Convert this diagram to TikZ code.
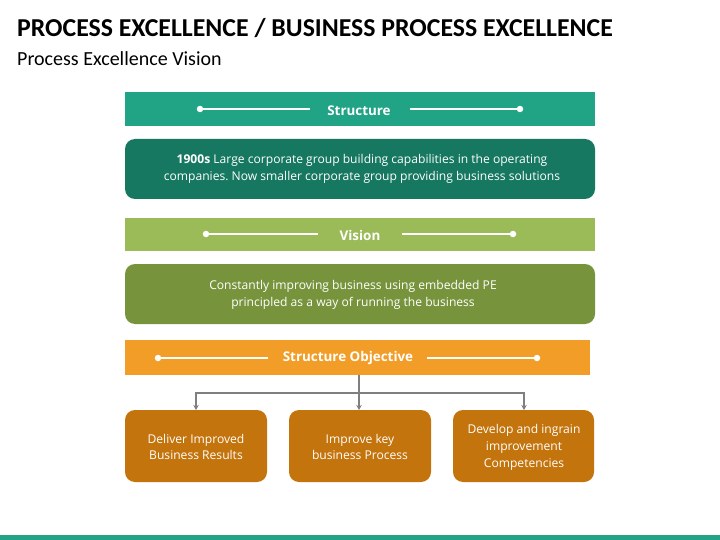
\documentclass[tikz,border=0pt]{standalone}
\usepackage{fontspec}
\setmainfont{Open Sans}
\newfontfamily\titlefont{Carlito}
\usetikzlibrary{arrows.meta}
\frenchspacing
\definecolor{tealbar}{RGB}{33,163,133}
\definecolor{tealbox}{RGB}{22,120,97}
\definecolor{greenbar}{RGB}{155,187,89}
\definecolor{greenbox}{RGB}{119,148,61}
\definecolor{orangebar}{RGB}{242,157,40}
\definecolor{orangebox}{RGB}{196,116,12}
\definecolor{conn}{RGB}{127,127,127}
\tikzset{
  bar/.style={fill=#1, draw=none},
  rbox/.style={fill=#1, draw=none, rounded corners=10pt},
  bartext/.style={text=white, font=\bfseries\fontsize{13.4}{16}\selectfont},
  boxtext/.style={text=white, align=center, font=\fontsize{12.1}{17.5}\selectfont},
  smalltext/.style={text=white, align=center, font=\fontsize{12.1}{16.9}\selectfont},
  deco/.style={draw=white, line width=1.6pt},
  dotc/.style={circle, fill=white, inner sep=0pt, minimum size=6.5pt},
  connector/.style={draw=conn, line width=1.2pt},
  arr/.style={connector, -{Stealth[length=5pt,width=5.5pt]}},
}
\begin{document}
\begin{tikzpicture}[x=1pt,y=-1pt]
\useasboundingbox (0,0) rectangle (720,540);
\fill[white] (0,0) rectangle (720,540);
% titles
\node[anchor=base west, inner sep=0pt, font=\titlefont\bfseries\fontsize{25.8}{28}\selectfont] (title) at (17,37) {PROCESS EXCELLENCE / BUSINESS PROCESS EXCELLENCE};
\node[anchor=base west, inner sep=0pt, font=\titlefont\fontsize{20}{22}\selectfont] (subtitle) at (17,66) {Process Excellence Vision};
% Structure bar
\fill[bar=tealbar] (125,92) rectangle (595,126);
\node[bartext] (s) at (359,110.5) {Structure};
\node[dotc] (sl) at (200,109) {};
\coordinate (sle) at (310,109);
\coordinate (srs) at (410,109);
\node[dotc] (sr) at (520,109) {};
\draw[deco] (sl.center) -- (sle);
\draw[deco] (srs) -- (sr.center);
% box 1
\fill[rbox=tealbox] (125,139) rectangle (595,199);
\node[boxtext] (b1) at (362,169) {\textbf{1900s} Large corporate group building capabilities in the operating\\companies. Now smaller corporate group providing business solutions};
% Vision bar
\fill[bar=greenbar] (125,218) rectangle (595,251);
\node[bartext] (v) at (360,235.5) {Vision};
\node[dotc] (vl) at (206,234) {};
\coordinate (vle) at (318,234);
\coordinate (vrs) at (402,234);
\node[dotc] (vr) at (513,234) {};
\draw[deco] (vl.center) -- (vle);
\draw[deco] (vrs) -- (vr.center);
% box 2
\fill[rbox=greenbox] (125,264) rectangle (595,324);
\node[boxtext] (b2) at (353,295) {Constantly improving business using embedded PE\\principled as a way of running the business};
% Structure Objective bar
\fill[bar=orangebar] (125,340) rectangle (590,375);
\node[bartext] (so) at (348,358.5) {Structure Objective};
\node[dotc] (ol) at (158,358) {};
\coordinate (ole) at (268,358);
\coordinate (ors) at (427,358);
\node[dotc] (or) at (537,358) {};
\draw[deco] (ol.center) -- (ole);
\draw[deco] (ors) -- (or.center);
\coordinate (otop) at (359,375);
\coordinate (obus) at (359,393);
% bottom boxes
\fill[rbox=orangebox] (125,410) rectangle (267,482);
\fill[rbox=orangebox] (289,410) rectangle (431,482);
\fill[rbox=orangebox] (453,410) rectangle (594,482);
\coordinate (c1) at (196,410);
\coordinate (c2) at (359,410);
\coordinate (c3) at (524,410);
\node[smalltext] (t1) at (196,447) {Deliver Improved\\Business Results};
\node[smalltext] (t2) at (360,447) {Improve key\\business Process};
\node[smalltext] (t3) at (524,447) {Develop and ingrain\\improvement\\Competencies};
% connectors
\draw[connector] (otop) -- (obus);
\draw[arr] (obus) -| (c1);
\draw[arr] (obus) -| (c3);
\draw[arr] (obus) -- (c2);
% bottom strip
\fill[tealbar] (0,535) rectangle (720,540);
\end{tikzpicture}
\end{document}
